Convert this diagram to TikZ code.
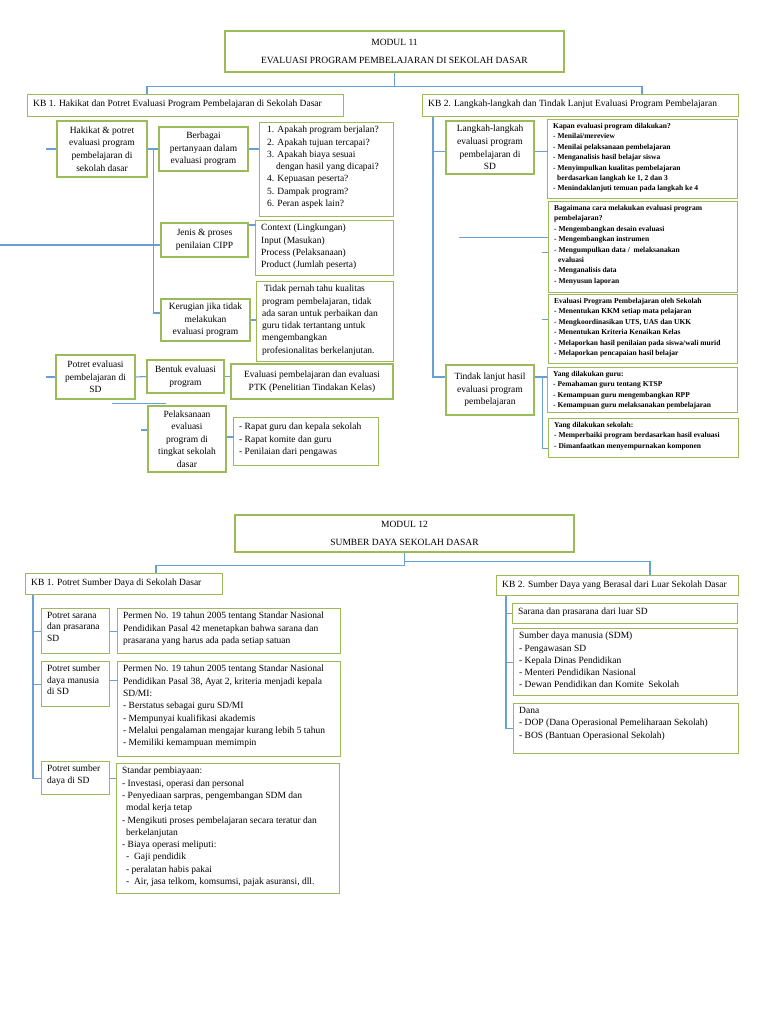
\documentclass[tikz,border=0pt]{standalone}
\usepackage{fontspec}
\setmainfont{Liberation Serif}
\definecolor{bgreen}{HTML}{9BBB59}
\definecolor{lblue}{HTML}{6A9FD6}
\newcommand\cb[6]{\node[box,minimum width={(#4-#2)*1pt},minimum height={(#5-#3)*1pt}] (#1) at ({(#2+#4)/2},{(#3+#5)/2}) {#6};}
\newcommand\lb[8]{\node[box,anchor=north west,minimum width={(#4-#2)*1pt},minimum height={(#5-#3)*1pt}] (#1) at (#2,#3) {};
\node[#6,anchor=north west] (#1-t) at ([xshift=6pt,yshift=-#7pt]#1.north west) {#8};}
\begin{document}
\begin{tikzpicture}[x=1pt,y=-1pt,
  box/.style={draw=bgreen,line width=1.2pt,inner sep=0pt,align=center,font={\fontsize{9.5}{12.6}\selectfont}},
  ln/.style={draw=lblue,line width=1.1pt},
  tx/.style={align=left,inner sep=0pt,font={\fontsize{9.5}{12.3}\selectfont}},
  ps/.style={align=left,inner sep=0pt,font={\fontsize{9.5}{11.3}\selectfont}},
  rt/.style={align=left,inner sep=0pt,font={\fontsize{7.5}{10.4}\selectfont\bfseries}}]
\useasboundingbox[fill=white] (0,0) rectangle (768,1024);

% ===== MODUL 11 =====
\cb{m11}{225}{31}{564}{72}{MODUL 11\\[5pt]EVALUASI PROGRAM PEMBELAJARAN DI SEKOLAH DASAR}
\lb{kb1}{27}{94}{343}{116}{tx}{6}{KB 1. Hakikat dan Potret Evaluasi Program Pembelajaran di Sekolah Dasar}
\lb{kb2}{422}{94}{738}{116}{tx}{6}{KB 2. Langkah-langkah dan Tindak Lanjut Evaluasi Program Pembelajaran}
\draw[ln] (m11.south) -- ++(0,14) coordinate (j11);
\draw[ln] ([xshift=120pt]kb1.north west) |- (j11) -| ([xshift=220pt]kb2.north west);

% left subtree
\cb{hak}{57}{121}{147}{177}{Hakikat \& potret\\evaluasi program\\pembelajaran di\\sekolah dasar}
\draw[ln] (hak.west) -- ++(-10,0);
\cb{berb}{159}{127}{248}{171}{Berbagai\\pertanyaan dalam\\evaluasi program}
\draw[ln] (hak.east) -- (berb.west);
\lb{q}{259}{122}{393}{216}{tx}{4}{\hspace*{2pt}1. Apakah program berjalan?\\\hspace*{2pt}2. Apakah tujuan tercapai?\\\hspace*{2pt}3. Apakah biaya sesuai\\\hspace*{11pt}dengan hasil yang dicapai?\\\hspace*{2pt}4. Kepuasan peserta?\\\hspace*{2pt}5. Dampak program?\\\hspace*{2pt}6. Peran aspek lain?}
\draw[ln] (berb.east) -- (berb.east -| q.west);
\cb{jen}{161}{223}{248}{257}{Jenis \& proses\\penilaian CIPP}
\draw[ln] ([yshift=-5pt]jen.west) -- ++(-161,0);
\lb{cipp}{255}{220}{393}{275}{tx}{4}{Context (Lingkungan)\\Input (Masukan)\\Process (Pelaksanaan)\\Product (Jumlah peserta)}
\draw[ln] ([yshift=15pt]jen.east) -- ++(7,0);
\cb{ker}{161}{299}{250}{341}{Kerugian jika tidak\\melakukan\\evaluasi program}
\draw[ln] ([xshift=6pt]hak.east) |- ([yshift=7pt]ker.west);
\lb{kt}{256}{281}{393}{361}{tx}{4}{\hspace*{2pt}Tidak pernah tahu kualitas\\program pembelajaran, tidak\\ada saran untuk perbaikan dan\\guru tidak tertantang untuk\\mengembangkan\\profesionalitas berkelanjutan.}
\draw[ln] (ker.east) -- (ker.east -| kt.west);
\cb{pe}{56}{355}{135}{399}{Potret evaluasi\\pembelajaran di\\SD}
\draw[ln] (pe.west) -- ++(-9,0);
\cb{ben}{147}{360}{224}{393}{Bentuk evaluasi\\program}
\draw[ln] (pe.east) -- (ben.west);
\cb{ptk}{231}{364}{393}{399}{Evaluasi pembelajaran dan evaluasi\\PTK (Penelitian Tindakan Kelas)}
\draw[ln] (ben.east) -- (ben.east -| ptk.west);
\cb{pel}{148}{406}{226}{472}{Pelaksanaan\\evaluasi\\program di\\tingkat sekolah\\dasar}
\draw[ln] ([xshift=-35pt,yshift=2pt]pel.north west) -- ++(54,0);
\draw[ln] ([yshift=9pt]pel.west) -- ++(-6,0);
\lb{rap}{233}{417}{378}{465}{tx}{6}{- Rapat guru dan kepala sekolah\\- Rapat komite dan guru\\- Penilaian dari pengawas}
\draw[ln] ([yshift=2pt]pel.east) -- ++(7,0);

% right subtree
\cb{lan}{446}{121}{534}{174}{Langkah-langkah\\evaluasi program\\pembelajaran di\\SD}
\draw[ln] ([yshift=-4pt]lan.west) -- ++(-13,0);
\lb{r1}{547}{119}{737}{198}{rt}{4}{Kapan evaluasi program dilakukan?\\- Menilai/mereview\\- Menilai pelaksanaan pembelajaran\\- Menganalisis hasil belajar siswa\\- Menyimpulkan kualitas pembelajaran\\\hspace*{4pt}berdasarkan langkah ke 1, 2 dan 3\\- Menindaklanjuti temuan pada langkah ke 4}
\draw[ln] ([yshift=-4pt]lan.east) -- ++(13,0);
\lb{r2}{548}{201}{737}{292}{rt}{4}{Bagaimana cara melakukan evaluasi program\\pembelajaran?\\- Mengembangkan desain evaluasi\\- Mengembangkan instrumen\\- Mengumpulkan data /\ \ melaksanakan\\\hspace*{4pt}evaluasi\\- Menganalisis data\\- Menyusun laporan}
\draw[ln] ([yshift=9.5pt]r2.west) -- ++(-89,0);
\draw[ln] ([yshift=-5.5pt]r2.west) -- ++(-6,0);
\lb{r3}{548}{294}{737}{363}{rt}{4}{Evaluasi Program Pembelajaran oleh Sekolah\\- Menentukan KKM setiap mata pelajaran\\- Mengkoordinasikan UTS, UAS dan UKK\\- Menentukan Kriteria Kenaikan Kelas\\- Melaporkan hasil penilaian pada siswa/wali murid\\- Melaporkan pencapaian hasil belajar}
\draw[ln] ([yshift=9.5pt]r3.west) -- ++(-6,0);
\cb{tin}{446}{365}{534}{415}{Tindak lanjut hasil\\evaluasi program\\pembelajaran}
\draw[ln] ([xshift=11pt]kb2.south west) |- ([yshift=13pt]tin.west);
\lb{r4}{547}{367}{737}{412}{rt}{4}{Yang dilakukan guru:\\- Pemahaman guru tentang KTSP\\- Kemampuan guru mengembangkan RPP\\- Kemampuan guru melaksanakan pembelajaran}
\lb{r5}{548}{418}{738}{457}{rt}{4}{Yang dilakukan sekolah:\\- Memperbaiki program berdasarkan hasil evaluasi\\- Dimanfaatkan menyempurnakan komponen}
\draw[ln] ([yshift=13pt]tin.east) -- ++(8,0) coordinate (rj) -- (rj -| r4.west);
\draw[ln] (rj) |- ([yshift=-10pt]r5.west);

% ===== MODUL 12 =====
\cb{m12}{235}{515}{574}{552}{MODUL 12\\[5pt]SUMBER DAYA SEKOLAH DASAR}
\lb{kc1}{25}{573}{222}{594}{tx}{5.5}{KB 1. Potret Sumber Daya di Sekolah Dasar}
\lb{kc2}{496}{575}{738}{595}{tx}{5.5}{KB 2. Sumber Daya yang Berasal dari Luar Sekolah Dasar}
\draw[ln] (m12.south) -- ++(0,9) coordinate (ja);
\draw[ln] (ja) -| ([xshift=154pt]kc2.north west);
\draw[ln] (ja) -- ++(0,4) -| ([xshift=131pt]kc1.north west);

\lb{ps1}{41}{608}{109}{653}{ps}{4}{Potret sarana\\dan prasarana\\SD}
\draw[ln] (ps1.west) -- ++(-8,0);
\lb{p1}{117}{608}{340}{653}{tx}{4}{Permen No. 19 tahun 2005 tentang Standar Nasional\\Pendidikan Pasal 42 menetapkan bahwa sarana dan\\prasarana yang harus ada pada setiap satuan}
\draw[ln] (ps1.east) -- (p1.west);
\lb{ps2}{41}{661}{109}{706}{ps}{4}{Potret sumber\\daya manusia\\di SD}
\draw[ln] (ps2.west) -- ++(-8,0);
\lb{p2}{117}{661}{340}{756}{tx}{4}{Permen No. 19 tahun 2005 tentang Standar Nasional\\Pendidikan Pasal 38, Ayat 2, kriteria menjadi kepala\\SD/MI:\\- Berstatus sebagai guru SD/MI\\- Mempunyai kualifikasi akademis\\- Melalui pengalaman mengajar kurang lebih 5 tahun\\- Memiliki kemampuan memimpin}
\draw[ln] ([yshift=4pt]ps2.east) -- ++(8,0);
\lb{ps3}{41}{761}{109}{794}{ps}{4}{Potret sumber\\daya di SD}
\draw[ln] ([xshift=8pt]kc1.south west) |- (ps3.west);
\lb{p3}{116}{763}{339}{893}{tx}{4}{Standar pembiayaan:\\- Investasi, operasi dan personal\\- Penyediaan sarpras, pengembangan SDM dan\\\hspace*{4pt}modal kerja tetap\\- Mengikuti proses pembelajaran secara teratur dan\\\hspace*{4pt}berkelanjutan\\- Biaya operasi meliputi:\\\hspace*{4pt}-\ \ Gaji pendidik\\\hspace*{4pt}- peralatan habis pakai\\\hspace*{4pt}-\ \ Air, jasa telkom, komsumsi, pajak asuransi, dll.}
\draw[ln] (ps3.east) -- (ps3.east -| p3.west);

\lb{s1}{512}{603}{737}{623}{tx}{5}{Sarana dan prasarana dari luar SD}
\lb{s2}{513}{628}{737}{695}{tx}{4}{Sumber daya manusia (SDM)\\- Pengawasan SD\\- Kepala Dinas Pendidikan\\- Menteri Pendidikan Nasional\\- Dewan Pendidikan dan Komite\ \ Sekolah}
\lb{s3}{513}{703}{738}{753}{tx}{4}{Dana\\- DOP (Dana Operasional Pemeliharaan Sekolah)\\- BOS (Bantuan Operasional Sekolah)}
\draw[ln] ([xshift=10pt]kc2.south west) |- (s3.west);
\draw[ln] (s1.west) -- ++(-6,0);
\draw[ln] (s2.west) -- ++(-7,0);
\end{tikzpicture}
\end{document}
